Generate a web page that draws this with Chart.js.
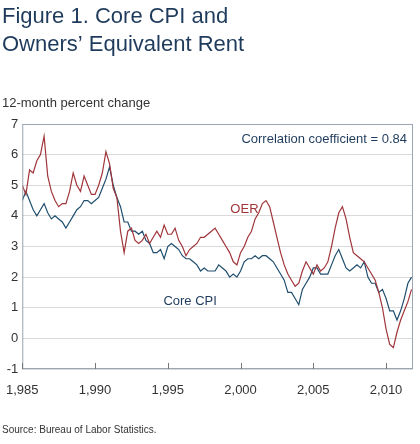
<!DOCTYPE html>
<html><head><meta charset="utf-8">
<script src="https://cdn.jsdelivr.net/npm/chart.js@4/dist/chart.umd.min.js"></script>
<style>html,body{margin:0;padding:0;background:#fff}#w{width:420px;height:444px;position:relative}</style>
</head><body><div id="w"><canvas id="c"></canvas></div>
<script>
const coreCPI=[4.5,4.8,4.5,4.2,4.0,4.2,4.4,4.1,3.9,4.0,3.9,3.8,3.6,3.8,4.0,4.2,4.3,4.5,4.5,4.4,4.5,4.6,4.9,5.2,5.6,5.0,4.6,4.3,3.8,3.8,3.5,3.5,3.4,3.5,3.2,3.1,2.8,2.8,2.9,2.6,3.0,3.1,3.0,2.9,2.7,2.6,2.6,2.5,2.4,2.2,2.3,2.2,2.2,2.2,2.4,2.3,2.2,2.0,2.1,2.0,2.2,2.5,2.6,2.6,2.7,2.6,2.7,2.7,2.6,2.5,2.3,2.1,1.9,1.5,1.5,1.3,1.1,1.6,1.8,2.0,2.3,2.3,2.1,2.1,2.1,2.4,2.7,2.9,2.6,2.3,2.2,2.3,2.4,2.3,2.5,2.0,1.8,1.8,1.5,1.6,1.3,0.9,0.9,0.6,0.9,1.3,1.8,2.0];
const oer=[5.0,4.7,5.5,5.4,5.8,6.0,6.6,5.3,4.8,4.5,4.3,4.4,4.4,4.8,5.4,5.0,4.8,5.3,5.0,4.7,4.7,5.0,5.4,6.1,5.7,4.9,4.6,3.5,2.8,3.5,3.6,3.2,3.1,3.2,3.4,3.1,3.3,3.5,3.3,3.7,3.4,3.4,3.6,3.2,3.0,2.7,2.9,3.0,3.1,3.3,3.3,3.4,3.5,3.6,3.4,3.2,3.0,2.8,2.5,2.4,2.8,3.0,3.3,3.5,3.9,4.1,4.4,4.5,4.3,3.8,3.3,2.8,2.4,2.1,1.9,1.7,1.8,2.2,2.5,2.3,2.1,2.4,2.2,2.3,2.5,3.0,3.6,4.1,4.3,3.9,3.3,2.8,2.7,2.6,2.5,2.3,2.1,1.9,1.5,1.0,0.3,-0.2,-0.3,0.2,0.6,0.9,1.2,1.6];
const startYear=1985, step=0.25;
const xTicks=[1985,1990,1995,2000,2005,2010];
const yTicks=[-1,0,1,2,3,4,5,6,7];
const pts=a=>a.map((v,i)=>({x:startYear+i*step,y:v}));
const navy='#1f3b5c';
const deco={id:'deco',afterDraw(ch){const c=ch.ctx,a=ch.chartArea,xs=ch.scales.x,ys=ch.scales.y;c.save();
c.fillStyle=navy;c.textBaseline='top';c.font='22px "Liberation Sans", Arial';
c.fillText('Figure 1. Core CPI and',2,6);c.fillText('Owners\u2019 Equivalent Rent',2,34);
c.font='13px "Liberation Sans", Arial';c.fillStyle='#333';c.fillText('12-month percent change',2,97);
c.font='10px "Liberation Sans", Arial';c.fillText('Source: Bureau of Labor Statistics.',2,425);
c.strokeStyle='#9aa6b2';c.lineWidth=1;c.strokeRect(a.left+.5,a.top+.5,a.right-a.left-1,a.bottom-a.top-1);
c.strokeStyle='#777';xTicks.forEach(t=>{const x=Math.round(xs.getPixelForValue(t))+.5;c.beginPath();c.moveTo(x,a.bottom);c.lineTo(x,a.bottom-6);c.stroke();});
c.font='13px "Liberation Sans", Arial';c.textBaseline='middle';c.fillStyle=navy;
c.textAlign='right';c.fillText('Correlation coefficient = 0.84',a.right-6,ys.getPixelForValue(6.5));
c.fillStyle='#a0353a';c.textAlign='left';c.fillText('OER',xs.getPixelForValue(1999.3),ys.getPixelForValue(4.2));
c.fillStyle=navy;c.fillText('Core CPI',xs.getPixelForValue(1994.7),ys.getPixelForValue(1.2));
c.restore();}};
new Chart(document.getElementById('c'),{type:'line',
data:{datasets:[{data:pts(oer),borderColor:'#a0353a',borderWidth:1.2,pointRadius:0,tension:0},
{data:pts(coreCPI),borderColor:'#1f4e6e',borderWidth:1.2,pointRadius:0,tension:0}]},
options:{responsive:true,maintainAspectRatio:false,animation:false,
layout:{padding:{top:124,right:7,left:0,bottom:0}},
plugins:{legend:{display:false},tooltip:{enabled:false}},
scales:{x:{type:'linear',min:1985,max:2011.85,afterBuildTicks(s){s.ticks=xTicks.map(v=>({value:v}))},
grid:{display:false},border:{display:false},
ticks:{color:'#333',font:{size:13,family:'"Liberation Sans", Arial'},maxRotation:0,autoSkip:false,padding:6},
afterFit(s){s.height=75}},
y:{min:-1,max:7,afterBuildTicks(s){s.ticks=yTicks.map(v=>({value:v}))},
grid:{color:'#d9d9d9',drawTicks:false},border:{display:false},
ticks:{color:'#333',font:{size:13,family:'"Liberation Sans", Arial'},padding:4},
afterFit(s){s.width=18}}}},plugins:[deco]});
</script></body></html>
